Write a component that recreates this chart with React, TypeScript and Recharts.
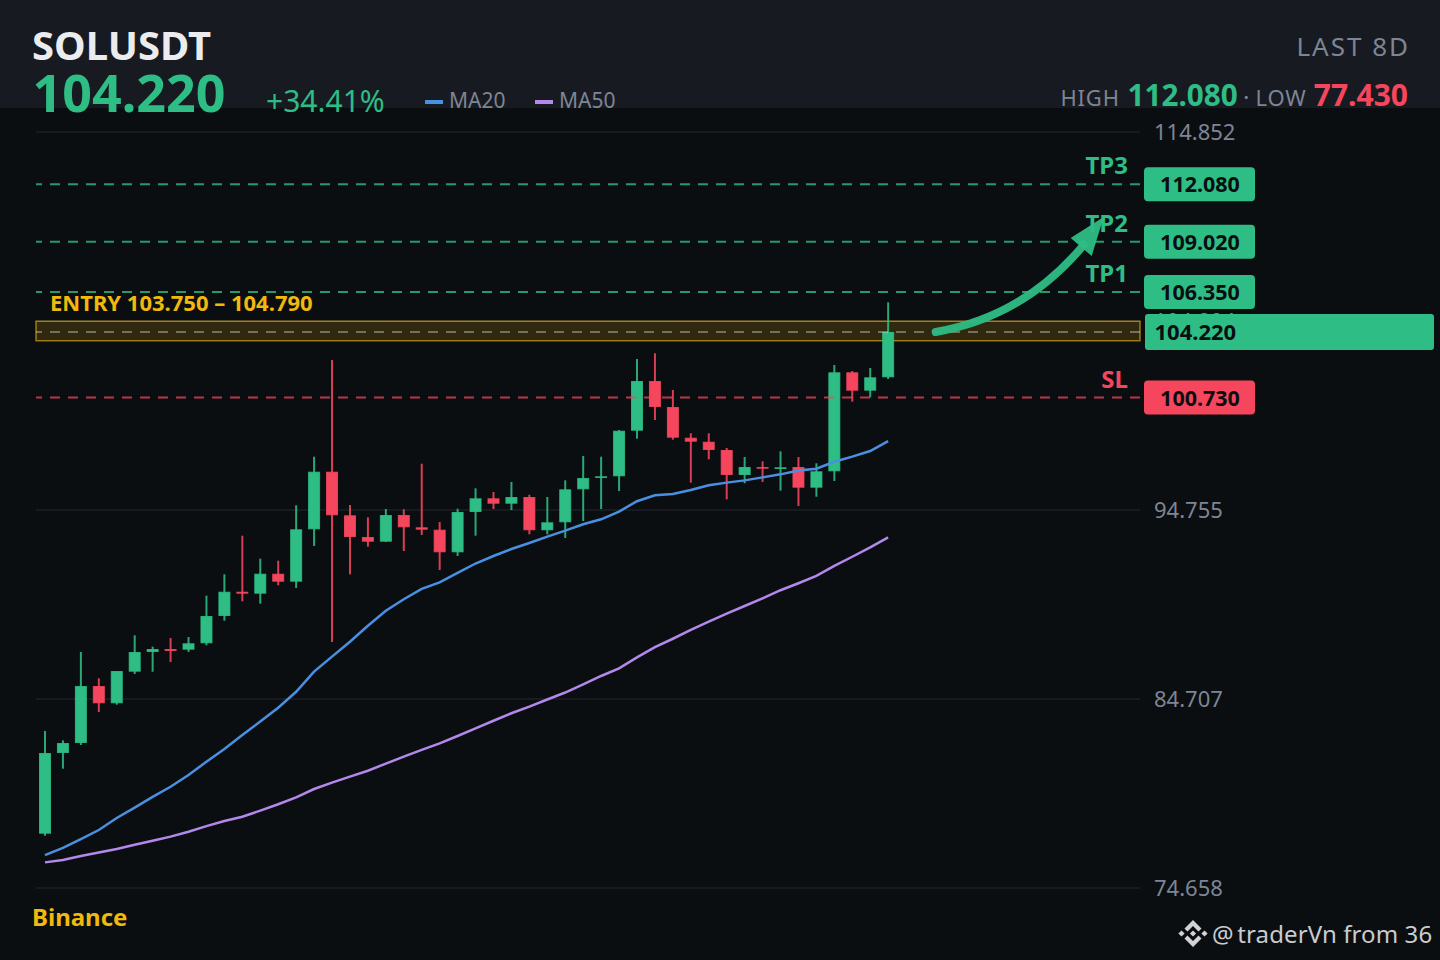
import React from "react";
import {
  ComposedChart,
  Bar,
  Line,
  XAxis,
  YAxis,
  CartesianGrid,
  ReferenceLine,
  ReferenceArea,
  ReferenceDot,
} from "recharts";

const opens = [77.545,81.836,82.367,85.398,84.478,86.158,87.205,87.365,87.328,87.668,89.119,90.411,90.305,91.368,90.943,93.729,96.792,94.473,93.320,93.070,94.489,93.835,93.708,92.506,94.649,95.377,95.090,95.446,93.676,94.101,95.855,96.456,96.547,98.971,101.614,100.231,98.599,98.386,97.945,96.616,97.041,96.935,97.041,95.941,96.812,102.076,101.098,101.810];
const highs = [83.005,82.511,87.205,85.807,86.195,88.093,87.487,87.950,88.003,90.199,91.336,93.389,92.166,92.060,95.005,97.589,102.730,95.021,94.367,94.808,94.792,97.217,94.117,94.824,95.909,95.712,96.244,95.569,95.446,96.334,97.626,97.589,99.008,102.783,103.086,101.135,98.833,98.833,98.051,97.573,97.344,97.876,97.573,97.238,102.464,102.145,102.305,105.798];
const lows = [77.430,81.001,82.261,84.015,84.403,86.036,86.158,86.674,87.205,87.562,88.870,89.901,89.773,90.752,90.608,92.841,87.737,91.336,92.804,93.054,92.575,93.426,91.565,92.309,93.389,94.808,94.755,93.463,93.463,93.266,94.170,94.808,95.765,98.546,99.540,98.493,96.207,97.450,95.324,96.175,96.244,95.781,94.968,95.462,96.297,100.513,100.747,101.720];
const closes = [81.836,82.367,85.398,84.478,86.195,87.205,87.365,87.259,87.668,89.119,90.411,90.305,91.368,90.943,93.729,96.792,94.473,93.320,93.070,94.489,93.835,93.708,92.506,94.649,95.377,95.090,95.446,93.676,94.101,95.855,96.456,96.547,98.971,101.614,100.231,98.599,98.386,97.945,96.616,97.041,96.951,97.025,95.941,96.812,102.076,101.098,101.810,104.220];
const ma20Values = [76.41,76.79,77.26,77.74,78.38,78.93,79.50,80.04,80.67,81.37,82.05,82.79,83.51,84.24,85.09,86.16,86.96,87.75,88.60,89.40,90.01,90.56,90.91,91.41,91.91,92.31,92.68,93.00,93.34,93.66,94.00,94.26,94.67,95.22,95.54,95.61,95.82,96.07,96.21,96.33,96.49,96.65,96.85,96.95,97.32,97.59,97.89,98.42];
const ma50Values = [76.02,76.15,76.36,76.54,76.73,76.96,77.17,77.39,77.65,77.95,78.22,78.45,78.77,79.11,79.48,79.92,80.26,80.58,80.89,81.27,81.64,82.00,82.35,82.74,83.15,83.55,83.95,84.30,84.68,85.05,85.48,85.93,86.34,86.92,87.46,87.91,88.38,88.82,89.24,89.65,90.06,90.49,90.86,91.25,91.78,92.27,92.77,93.30];

const yTicks = [74.658, 84.707, 94.755, 104.804, 114.852];
const targets = [
  { name: "TP3", price: 112.08 },
  { name: "TP2", price: 109.02 },
  { name: "TP1", price: 106.35 },
];
const stopLoss = { name: "SL", price: 100.73 };
const entryLow = 103.75;
const entryHigh = 104.79;
const lastPrice = 104.22;
const arrowStartIndex = 49.65;

const UP = "#2EBD85";
const DOWN = "#F6465D";
const YELLOW = "#F0B90B";
const BLUE = "#4A90E2";
const PURPLE = "#B388EB";
const MUTED = "#7E8594";
const BG = "#0B0E11";
const HEADER = "#171A20";
const FONT = "'Noto Sans', sans-serif";
const X_DOMAIN = [-0.5, 61.04];

const data = closes.map((close, i) => ({
  i,
  open: opens[i],
  high: highs[i],
  low: lows[i],
  close,
  range: [lows[i], highs[i]],
  ma20: ma20Values[i],
  ma50: ma50Values[i],
}));

function Candle(props: any) {
  const { x, y, width, height, payload } = props;
  const { open, close, high, low } = payload;
  const color = close >= open ? UP : DOWN;
  const k = height / (high - low);
  const top = y + (high - Math.max(open, close)) * k;
  const bodyH = Math.max(Math.abs(close - open) * k, 1);
  const cx = x + width / 2;
  return (
    <g>
      <line x1={cx} x2={cx} y1={y} y2={y + height} stroke={color} strokeWidth={2} strokeOpacity={0.88} />
      <rect x={x + 0.5} y={top + 0.5} width={width - 1} height={Math.max(bodyH - 1, 0.5)} fill={color} stroke={color} strokeOpacity={0.85} strokeWidth={1} />
    </g>
  );
}

function PriceTag({ viewBox, color, name, price }: any) {
  const right = viewBox.x + viewBox.width;
  const y = viewBox.y;
  return (
    <g fontFamily={FONT} fontWeight={700}>
      <text x={right - 12} y={y - 10} textAnchor="end" fontSize={24} fill={color}>{name}</text>
      <rect x={right + 4} y={y - 17} width={111} height={34} rx={4} fill={color} />
      <text x={right + 60} y={y + 8} textAnchor="middle" fontSize={21.5} fill={BG}>{price.toFixed(3)}</text>
    </g>
  );
}

function LastTag({ viewBox, price }: any) {
  const right = viewBox.x + viewBox.width;
  const y = viewBox.y;
  return (
    <g fontFamily={FONT} fontWeight={700}>
      <rect x={right + 5} y={y - 18} width={289} height={36} rx={3} fill={UP} />
      <text x={right + 14.5} y={y + 8} fontSize={22} fill={BG}>{price.toFixed(3)}</text>
    </g>
  );
}

function EntryLabel({ viewBox }: any) {
  return (
    <text x={viewBox.x + 14} y={viewBox.y - 10} fontFamily={FONT} fontWeight={700} fontSize={22} fill={YELLOW}>
      {`ENTRY ${entryLow.toFixed(3)} – ${entryHigh.toFixed(3)}`}
    </text>
  );
}

function Arrow({ cx, cy }: any) {
  const endX = cx + 148;
  const endY = cy - 87;
  return (
    <g>
      <path d={`M ${cx} ${cy} Q ${cx + 88} ${cy - 15} ${endX} ${endY}`} fill="none" stroke={UP} strokeWidth={8} strokeLinecap="round" strokeOpacity={0.95} />
      <polygon points={`${cx + 168},${cy - 115} ${cx + 135},${cy - 94} ${cx + 156},${cy - 76}`} fill={UP} fillOpacity={0.95} />
    </g>
  );
}

function BinanceMark() {
  const c = "#D2D3D5";
  return (
    <g transform="translate(1193 933.5)" fill={c}>
      <rect x={-2.2} y={-2.2} width={4.4} height={4.4} transform="rotate(45)" />
      <rect x={-13.7} y={-2.2} width={4.4} height={4.4} transform="rotate(45 -11.5 0)" />
      <rect x={9.3} y={-2.2} width={4.4} height={4.4} transform="rotate(45 11.5 0)" />
      <path d="M0 -13.5 L8.5 -5 L5.5 -2 L0 -7.5 L-5.5 -2 L-8.5 -5 Z" />
      <path d="M0 13.5 L8.5 5 L5.5 2 L0 7.5 L-5.5 2 L-8.5 5 Z" />
    </g>
  );
}

function Overlay() {
  return (
    <svg width={1440} height={960} style={{ position: "absolute", left: 0, top: 0, pointerEvents: "none" }} fontFamily={FONT}>
      <text x={32} y={60} fontSize={40} fontWeight={700} fill="#EAECEF">SOLUSDT</text>
      <text x={32.5} y={112} fontSize={52} fontWeight={700} fill={UP}>104.220</text>
      <text x={266} y={112} fontSize={30} fill={UP}>+34.41%</text>
      <rect x={425} y={100} width={18} height={4} fill={BLUE} />
      <text x={449} y={108} fontSize={21} fill={MUTED}>MA20</text>
      <rect x={535} y={100} width={18} height={4} fill={PURPLE} />
      <text x={559} y={108} fontSize={21} fill={MUTED}>MA50</text>
      <text x={1410} y={56} fontSize={26} letterSpacing={2} textAnchor="end" fill={MUTED}>LAST 8D</text>
      <text x={1060.5} y={106} fontSize={22} letterSpacing={0.8} fill={MUTED}>HIGH</text>
      <text x={1127.5} y={106} fontSize={29.7} fontWeight={700} fill={UP}>112.080</text>
      <text x={1243} y={106} fontSize={24} fill={MUTED}>·</text>
      <text x={1255.5} y={106} fontSize={22} letterSpacing={0.8} fill={MUTED}>LOW</text>
      <text x={1408} y={106} fontSize={30} fontWeight={700} textAnchor="end" fill={DOWN}>77.430</text>
      <text x={32} y={926} fontSize={24} fontWeight={700} fill={YELLOW}>Binance</text>
      <BinanceMark />
      <text x={1212} y={943} fontSize={24} fill="#C9CBCF">@ <tspan dx={-2.5} letterSpacing={0.1}>traderVn from 36</tspan></text>
    </svg>
  );
}

export default function App() {
  return (
    <div style={{ position: "absolute", left: 0, top: 0, width: 1440, height: 960, background: BG, overflow: "hidden" }}>
      <div style={{ position: "absolute", left: 0, top: 0, width: 1440, height: 108, background: HEADER }} />
      <div style={{ position: "absolute", left: 0, top: 0 }}>
        <ComposedChart
          width={1440}
          height={960}
          data={data}
          margin={{ top: 132, right: 200, bottom: 72, left: 36 }}
          style={{ fontFamily: FONT }}
        >
          <CartesianGrid horizontal vertical={false} stroke="#171B20" strokeWidth={2} />
          <XAxis dataKey="i" type="number" domain={X_DOMAIN} hide allowDataOverflow />
          <YAxis
            orientation="right"
            width={100}
            domain={[yTicks[0], yTicks[4]]}
            ticks={yTicks}
            interval={0}
            allowDataOverflow
            axisLine={false}
            tickLine={false}
            tickMargin={8}
            tickFormatter={(v: number) => v.toFixed(3)}
            tick={{ fontSize: 22, fill: MUTED, fontFamily: FONT }}
          />
          <Bar dataKey="range" barSize={12} shape={<Candle />} isAnimationActive={false} />
          <Line dataKey="ma20" stroke={BLUE} strokeWidth={2.5} dot={false} isAnimationActive={false} />
          <Line dataKey="ma50" stroke={PURPLE} strokeWidth={2.5} dot={false} isAnimationActive={false} />
          <ReferenceArea
            y1={entryLow}
            y2={entryHigh}
            fill={YELLOW}
            fillOpacity={0.16}
            stroke={YELLOW}
            strokeOpacity={0.6}
            strokeWidth={1.5}
            label={<EntryLabel />}
          />
          {targets.map((t) => (
            <ReferenceLine
              key={t.name}
              y={t.price}
              stroke={UP}
              strokeOpacity={0.8}
              strokeWidth={2}
              strokeDasharray="10 8"
              label={<PriceTag color={UP} name={t.name} price={t.price} />}
            />
          ))}
          <ReferenceLine
            y={stopLoss.price}
            stroke={DOWN}
            strokeOpacity={0.75}
            strokeWidth={2}
            strokeDasharray="10 8"
            label={<PriceTag color={DOWN} name={stopLoss.name} price={stopLoss.price} />}
          />
          <ReferenceLine
            y={lastPrice}
            stroke="#FFFFFF"
            strokeOpacity={0.33}
            strokeWidth={2}
            strokeDasharray="10 8"
          />
          <ReferenceDot x={arrowStartIndex} y={lastPrice} shape={<Arrow />} />
        </ComposedChart>
      </div>
      <div style={{ position: "absolute", left: 0, top: 0 }}>
        <ComposedChart
          width={1440}
          height={960}
          data={data}
          margin={{ top: 132, right: 300, bottom: 72, left: 36 }}
        >
          <XAxis dataKey="i" type="number" domain={X_DOMAIN} hide allowDataOverflow />
          <YAxis hide domain={[yTicks[0], yTicks[4]]} allowDataOverflow />
          <ReferenceLine y={lastPrice} stroke="none" label={<LastTag price={lastPrice} />} />
        </ComposedChart>
      </div>
      <Overlay />
    </div>
  );
}
